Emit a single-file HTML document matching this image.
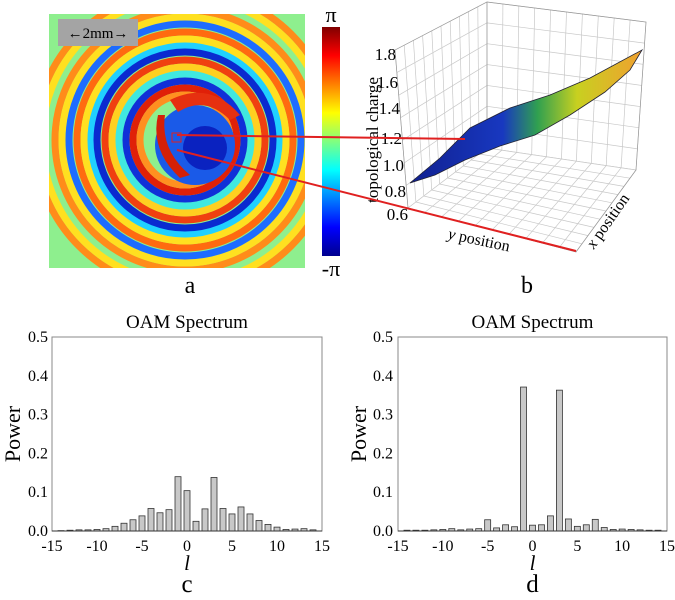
<!DOCTYPE html>
<html><head><meta charset="utf-8"><style>
body{margin:0;background:#fff;width:675px;height:600px;overflow:hidden;font-family:"Liberation Serif",serif}
svg{position:absolute;left:0;top:0}
</style></head><body>
<svg width="675" height="600" viewBox="0 0 675 600">
<defs>
<linearGradient id="jet" x1="0" y1="1" x2="0" y2="0">
<stop offset="0" stop-color="#00008f"/><stop offset="0.125" stop-color="#0000ff"/><stop offset="0.375" stop-color="#00ffff"/><stop offset="0.5" stop-color="#80ff80"/><stop offset="0.625" stop-color="#ffff00"/><stop offset="0.875" stop-color="#ff0000"/><stop offset="1" stop-color="#800000"/>
</linearGradient>
<linearGradient id="surf" x1="410" y1="0" x2="642" y2="0" gradientUnits="userSpaceOnUse">
<stop offset="0" stop-color="#102090"/><stop offset="0.4" stop-color="#1838c0"/><stop offset="0.55" stop-color="#30a050"/><stop offset="0.72" stop-color="#c8d020"/><stop offset="1" stop-color="#f0a030"/>
</linearGradient>
<clipPath id="imgclip"><rect x="49" y="14" width="256" height="254"/></clipPath>
</defs>
<g clip-path="url(#imgclip)">
<rect x="49" y="14" width="256" height="254" fill="#8eef8e"/>
<g fill="none" stroke-width="7">
<circle cx="185" cy="140" r="150" stroke="#ff8c1a"/><circle cx="185" cy="140" r="143" stroke="#ffe020"/>
<circle cx="185" cy="140" r="130" stroke="#ff8c1a"/><circle cx="185" cy="140" r="123" stroke="#ffe020"/><circle cx="185" cy="140" r="116" stroke="#1e6cff"/>
<circle cx="185" cy="140" r="108" stroke="#ff6a10"/><circle cx="185" cy="140" r="101" stroke="#ffe020"/><circle cx="185" cy="140" r="94" stroke="#20d0ff"/><circle cx="185" cy="140" r="88" stroke="#0a2ad0"/>
<circle cx="185" cy="140" r="80" stroke="#f04010"/><circle cx="185" cy="140" r="73" stroke="#ffd020"/><circle cx="185" cy="140" r="66" stroke="#40e8e0"/><circle cx="185" cy="140" r="59" stroke="#1030d8"/>
<circle cx="185" cy="140" r="52" stroke="#e02008"/><circle cx="185" cy="140" r="45" stroke="#ff9020"/>
</g>
<circle cx="195" cy="145" r="40" fill="#1a5ae8"/>
<circle cx="205" cy="148" r="22" fill="#0a22c0"/>
<path d="M170 100 Q210 80 240 115 L230 120 Q205 95 178 112 Z" fill="#e63010"/>
<path d="M165 115 Q160 150 190 175 L180 178 Q150 150 158 115 Z" fill="#d42008"/>
</g>
<rect x="58" y="19" width="80" height="27" fill="#a4a4a4"/>
<text x="98" y="38" font-size="15" text-anchor="middle">←2mm→</text>
<rect x="172" y="133" width="9" height="9" fill="none" stroke="#e02020" stroke-width="1"/>
<rect x="322" y="27" width="18" height="229" fill="url(#jet)"/>
<text x="331" y="22" font-size="22" text-anchor="middle">π</text>
<text x="331" y="276" font-size="22" text-anchor="middle">-π</text>
<text x="190" y="293" font-size="24" text-anchor="middle">a</text>
<g stroke="#c8c8c8" stroke-width="0.7" fill="none">
<polygon points="395,50 487,2 487,148 408,208" fill="#fff"/>
<polygon points="487,2 646,22 636,170 487,148" fill="#fff"/>
<polygon points="408,208 487,148 636,170 576,252" fill="#fff"/>
<g id="grid"></g>
<polyline points="395,50 487,2 646,22 636,170 576,252 408,208 395,50" stroke="#999"/>
<line x1="487" y1="2" x2="487" y2="148" stroke="#999"/>
</g>
<polygon points="410,183 440,158 470,128 510,108 550,95 590,78 642,50 630,70 605,92 570,115 535,135 500,146 465,160 435,175" fill="url(#surf)" stroke="#223" stroke-width="0.8"/>
<g font-size="17" text-anchor="end">
<text x="396" y="60">1.8</text><text x="398" y="88">1.6</text><text x="400" y="114">1.4</text><text x="402" y="144">1.2</text><text x="404" y="171">1.0</text><text x="406" y="197">0.8</text><text x="408" y="220">0.6</text>
</g>
<text transform="translate(378,140) rotate(-90)" font-size="17" text-anchor="middle">topological charge</text>
<text transform="translate(478,245) rotate(12)" font-size="16" text-anchor="middle"><tspan font-style="italic">y</tspan> position</text>
<text transform="translate(612,224) rotate(-55)" font-size="16" text-anchor="middle"><tspan font-style="italic">x</tspan> position</text>
<text x="527" y="293" font-size="24" text-anchor="middle">b</text>
<line x1="177" y1="135" x2="465" y2="139" stroke="#e02020" stroke-width="2"/>
<line x1="177" y1="150" x2="576" y2="251" stroke="#e02020" stroke-width="2"/>
<g id="charts"></g>
</svg>
<script>
const ls = [-14,-13,-12,-11,-10,-9,-8,-7,-6,-5,-4,-3,-2,-1,0,1,2,3,4,5,6,7,8,9,10,11,12,13,14];
const powerC = [0.001,0.002,0.003,0.003,0.004,0.006,0.012,0.02,0.029,0.039,0.058,0.047,0.055,0.14,0.104,0.025,0.057,0.138,0.058,0.044,0.062,0.044,0.027,0.017,0.01,0.004,0.005,0.006,0.003];
const powerD = [0.002,0.002,0.002,0.003,0.004,0.006,0.003,0.005,0.006,0.029,0.008,0.016,0.011,0.371,0.015,0.016,0.039,0.363,0.031,0.012,0.016,0.03,0.009,0.004,0.005,0.004,0.003,0.002,0.002];
const xTicks = [-15,-10,-5,0,5,10,15];
const yTicks = ["0.0","0.1","0.2","0.3","0.4","0.5"];
const NS="http://www.w3.org/2000/svg";
function mk(tag,attrs,parent,txt){const e=document.createElementNS(NS,tag);for(const k in attrs)e.setAttribute(k,attrs[k]);if(txt!==undefined)e.textContent=txt;parent.appendChild(e);return e;}
const grid=document.getElementById('grid');
for(let i=1;i<10;i++){const t=i/10;
 mk('line',{x1:395+(487-395)*t,y1:50-48*t,x2:408+(487-408)*t,y2:208-60*t},grid);
 mk('line',{x1:487+159*t,y1:2+20*t,x2:487+149*t,y2:148+22*t},grid);
 mk('line',{x1:408+(487-408)*t,y1:208-60*t,x2:576+(636-576)*t,y2:252-82*t},grid);
 mk('line',{x1:408+168*t,y1:208+44*t,x2:487+149*t,y2:148+22*t},grid);
}
for(let i=1;i<7;i++){const t=i/7;
 mk('line',{x1:395+13*t,y1:50+158*t,x2:487,y2:2+146*t},grid);
 mk('line',{x1:487,y1:2+146*t,x2:646-10*t,y2:22+148*t},grid);
}
function chart(name,vals,L,R,T,B,yTickX,label){
 const g=mk('g',{},document.getElementById('charts'));
 
 
 const xs=v=>L+(v+15)/30*(R-L);
 const ys=v=>B-v/0.5*(B-T);
 const cx=(L+R)/2;
 const title=mk('text',{x:cx,y:T-9,'font-size':19,'text-anchor':'middle'},g,'OAM Spectrum');
 
 
 const box=mk('rect',{x:L,y:T,width:R-L,height:B-T,fill:'none',stroke:'#888','stroke-width':1},g);
 
 
 vals.forEach((v,i)=>{
  const b=mk('rect',{x:xs(ls[i])-3,y:ys(v),width:6,height:B-ys(v),fill:'#c8c8c8',stroke:'#333','stroke-width':0.8},g);
  
  
 });
 mk('line',{x1:L,y1:B,x2:R,y2:B,stroke:'#333','stroke-width':1},g);
 xTicks.forEach(t=>{const e=mk('text',{x:xs(t),y:B+20,'font-size':16,'text-anchor':'middle'},g,String(t));
  
  });
 yTicks.forEach(t=>{const e=mk('text',{x:yTickX,y:ys(parseFloat(t))+5,'font-size':16,'text-anchor':'end'},g,t);
  
  });
 const yt=mk('text',{transform:`translate(${L-32},${(T+B)/2}) rotate(-90)`,'font-size':22,'text-anchor':'middle'},g,'Power');
 
 
 const xt=mk('text',{x:xs(0),y:B+39,'font-size':21,'font-style':'italic','text-anchor':'middle'},g,'l');
 
 
 const pl=mk('text',{x:xs(0),y:B+61,'font-size':25,'text-anchor':'middle'},g,label);
 
 
}
chart('oam-chart-c',powerC,52,322,337,531,48,'c');
chart('oam-chart-d',powerD,398,667,337,531,393,'d');
</script>
</body></html>
